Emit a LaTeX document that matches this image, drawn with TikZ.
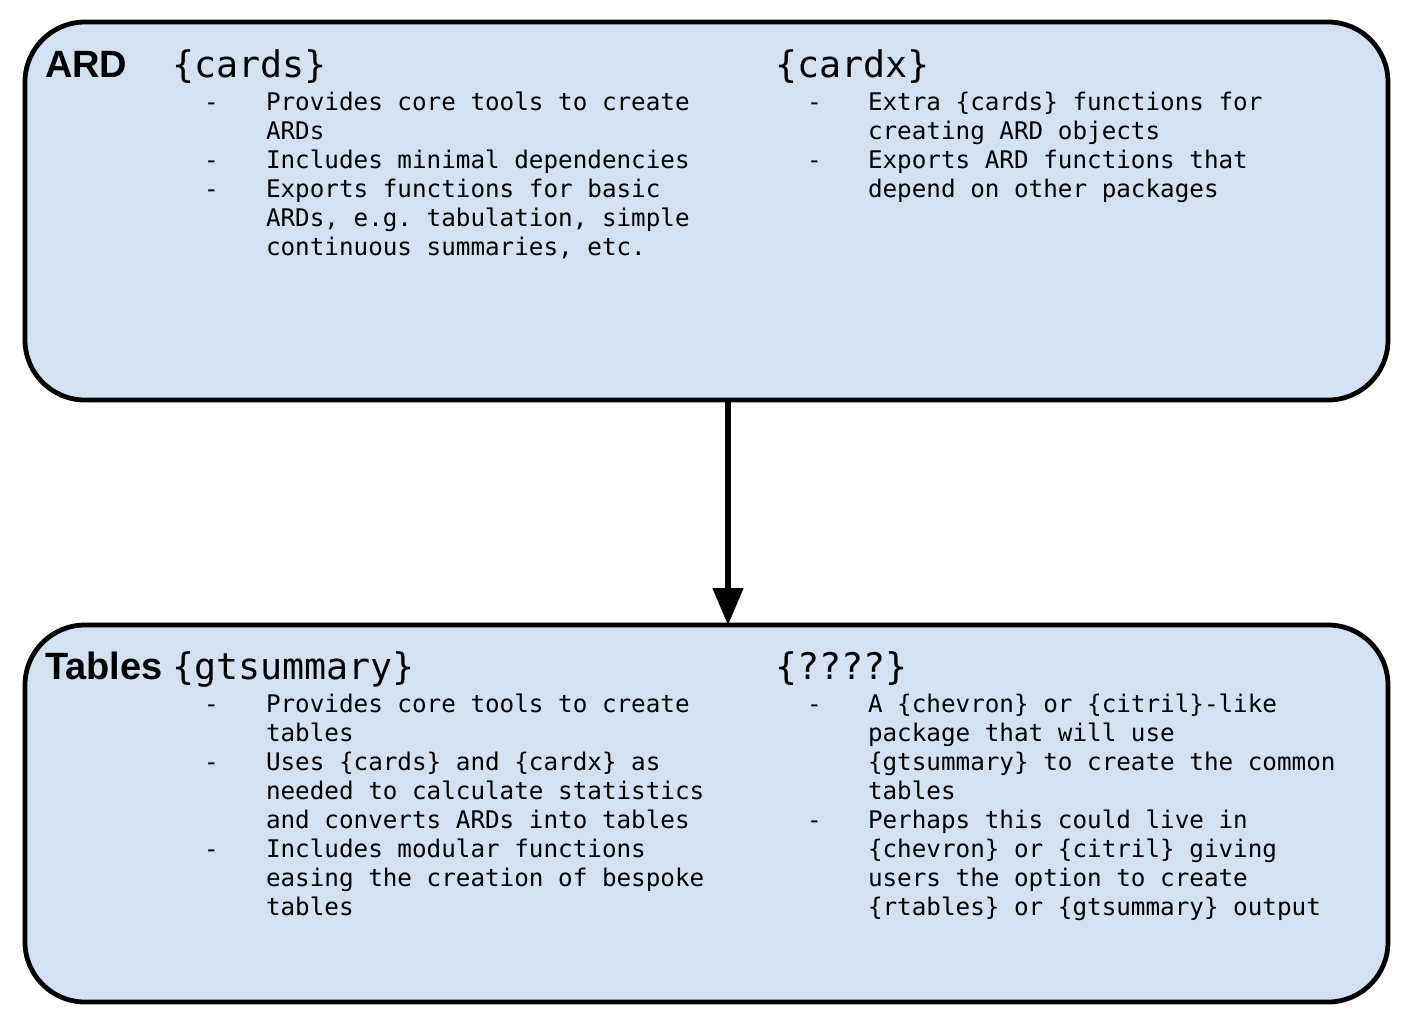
\documentclass[tikz,border=0pt]{standalone}
\usepackage{fontspec}
\setmainfont{Liberation Sans}
\newfontfamily\mymono{DejaVu Sans Mono}
\usetikzlibrary{arrows.meta}
\definecolor{boxfill}{RGB}{212,225,241}
\frenchspacing
\begin{document}
\begin{tikzpicture}[x=0.75pt,y=-0.75pt,
  panel/.style={draw=black, fill=boxfill, line width=3.6pt, rounded corners=45pt,
    inner sep=0pt, outer sep=0pt, minimum width=1022.25pt},
  title/.style={anchor=base west, inner sep=0pt, outer sep=0pt,
    font=\bfseries\fontsize{28.5}{32}\selectfont},
  pkg/.style={anchor=base west, inner sep=0pt, outer sep=0pt,
    font=\mymono\fontsize{27.5}{32}\selectfont},
  body/.style={anchor=base west, inner sep=0pt, outer sep=0pt,
    font=\mymono\fontsize{18.2}{22}\selectfont},
  conn/.style={draw=black, line width=3.8pt, -{Triangle[width=22.5pt,length=27.75pt]}}]
\useasboundingbox (0,0) rectangle (1412,1026);

% panels
\node[panel, minimum height=283.5pt] (ard) at (706.5,211) {};
\node[panel, minimum height=282.75pt] (tab) at (706.5,813.5) {};

% connector
\draw[conn] ([xshift=16.125pt]ard.south) -- ([xshift=16.125pt]tab.north);

% top panel
\node[title] (ardt) at (45,77) {ARD};
\node[pkg] (cards) at (172,77) {\{cards\}};
\node[pkg] (cardx) at (775,77) {\{cardx\}};

\node[body] (d1) at (204,110) {-};
\node[body] (a1) at (266,110) {Provides core tools to create};
\node[body] (a2) at (266,139) {ARDs};
\node[body] (d2) at (204,168) {-};
\node[body] (a3) at (266,168) {Includes minimal dependencies};
\node[body] (d3) at (204,197) {-};
\node[body] (a4) at (266,197) {Exports functions for basic};
\node[body] (a5) at (266,226) {ARDs, e.g. tabulation, simple};
\node[body] (a6) at (266,255) {continuous summaries, etc.};

\node[body] (d4) at (807,110) {-};
\node[body] (b1) at (868,110) {Extra \{cards\} functions for};
\node[body] (b2) at (868,139) {creating ARD objects};
\node[body] (d5) at (807,168) {-};
\node[body] (b3) at (868,168) {Exports ARD functions that};
\node[body] (b4) at (868,197) {depend on other packages};

% bottom panel
\node[title] (tabt) at (45,679) {Tables};
\node[pkg] (gts) at (172,679) {\{gtsummary\}};
\node[pkg] (qqq) at (775,679) {\{????\}};

\node[body] (d6) at (204,712) {-};
\node[body] (c1) at (266,712) {Provides core tools to create};
\node[body] (c2) at (266,741) {tables};
\node[body] (d7) at (204,770) {-};
\node[body] (c3) at (266,770) {Uses \{cards\} and \{cardx\} as};
\node[body] (c4) at (266,799) {needed to calculate statistics};
\node[body] (c5) at (266,828) {and converts ARDs into tables};
\node[body] (d8) at (204,857) {-};
\node[body] (c6) at (266,857) {Includes modular functions};
\node[body] (c7) at (266,886) {easing the creation of bespoke};
\node[body] (c8) at (266,915) {tables};

\node[body] (d9) at (807,712) {-};
\node[body] (e1) at (868,712) {A \{chevron\} or \{citril\}-like};
\node[body] (e2) at (868,741) {package that will use};
\node[body] (e3) at (868,770) {\{gtsummary\} to create the common};
\node[body] (e4) at (868,799) {tables};
\node[body] (d10) at (807,828) {-};
\node[body] (e5) at (868,828) {Perhaps this could live in};
\node[body] (e6) at (868,857) {\{chevron\} or \{citril\} giving};
\node[body] (e7) at (868,886) {users the option to create};
\node[body] (e8) at (868,915) {\{rtables\} or \{gtsummary\} output};
\end{tikzpicture}
\end{document}
